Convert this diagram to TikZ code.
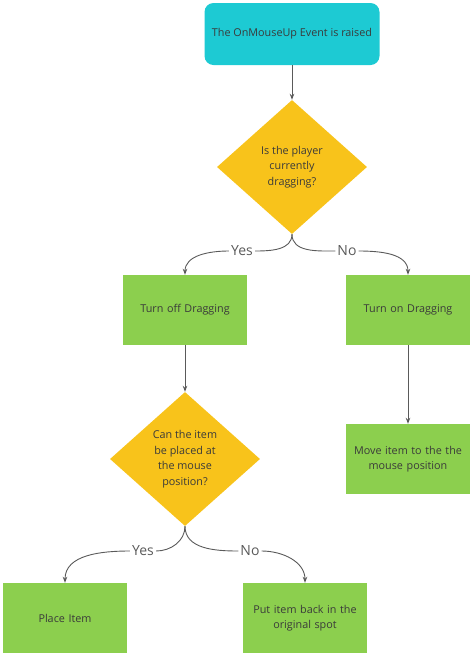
\documentclass[tikz,border=0pt]{standalone}
\usepackage{fontspec}
\setmainfont{Open Sans}
\usetikzlibrary{arrows.meta,shapes.geometric}
\definecolor{evcyan}{HTML}{1DCAD3}
\definecolor{qyellow}{HTML}{F8C31B}
\definecolor{actgreen}{HTML}{8CCF4E}
\definecolor{txtgray}{HTML}{3A3A3A}
\definecolor{lngray}{HTML}{5A5A5A}
\begin{document}
\begin{tikzpicture}[x=1pt,y=-1pt,>={Stealth[length=6pt,width=4.5pt]},font=\fontsize{10.8}{15.5}\selectfont,text=txtgray]
\tikzstyle{act}=[fill=actgreen,minimum width=124pt,minimum height=70pt,align=center,text width=118pt]
\tikzstyle{q}=[diamond,fill=qyellow,minimum width=150pt,minimum height=134pt,inner sep=0pt,align=center,aspect=1.1]
\tikzstyle{lbl}=[font=\fontsize{14}{16}\selectfont,text=lngray,inner sep=2pt]
\tikzstyle{ln}=[draw=lngray,line width=0.9pt]
\useasboundingbox (0,0) rectangle (474,657);
% start
\node[fill=evcyan,rounded corners=9pt,minimum width=175pt,minimum height=62pt] (start) at (292,34) {The OnMouseUp Event is raised};
% first question
\node[q] (drag) at (292,167) {Is the player\\currently\\dragging?};
\node[act] (off) at (185,310) {Turn off Dragging};
\node[act] (on) at (408,310) {Turn on Dragging};
\node[act] (move) at (408,459) {Move item to the the\\mouse position};
% second question
\node[q] (place) at (185,459) {Can the item\\be placed at\\the mouse\\position?};
\node[act] (put) at (65,618) {Place Item};
\node[act] (back) at (305,618) {Put item back in the\\original spot};
% labels
\node[lbl] (yes1) at (242,251) {Yes};
\node[lbl] (no1) at (347,251) {No};
\node[lbl] (yes2) at (143,551) {Yes};
\node[lbl] (no2) at (250,551) {No};
% connectors
\draw[ln,->] (start) -- (drag);
\draw[ln] (drag.south) to[out=-90,in=0] (yes1.east);
\draw[ln,->] (yes1.west) to[out=180,in=90] (off.north);
\draw[ln] (drag.south) to[out=-90,in=180] (no1.west);
\draw[ln,->] (no1.east) to[out=0,in=90] (on.north);
\draw[ln,->] (off) -- (place);
\draw[ln,->] (on) -- (move);
\draw[ln] (place.south) to[out=-90,in=0] (yes2.east);
\draw[ln,->] (yes2.west) to[out=180,in=90] (put.north);
\draw[ln] (place.south) to[out=-90,in=180] (no2.west);
\draw[ln,->] (no2.east) to[out=0,in=90] (back.north);
\end{tikzpicture}
\end{document}
